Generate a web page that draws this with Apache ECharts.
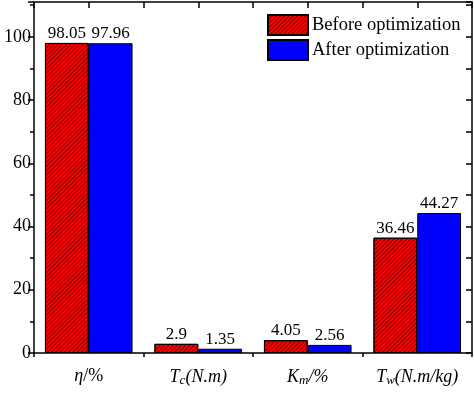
<!DOCTYPE html>
<html><head><meta charset="utf-8">
<script src="https://cdn.jsdelivr.net/npm/echarts@6/dist/echarts.min.js"></script>
<style>html,body{margin:0;padding:0;background:#fff}#c{width:474px;height:395px}</style>
</head><body><div id="c"></div>
<script>
const categories = ['{i|η}{n|/%}', '{i|T}{s|c}{i|(N.m)}', '{i|K}{s|m}{i|/%}', '{i|T}{s|w}{i|(N.m/kg)}'];
const seriesNames = ['Before optimization', 'After optimization'];
const beforeValues = [98.05, 2.9, 4.05, 36.46];
const afterValues = [97.96, 1.35, 2.56, 44.27];
const yTicks = [0, 20, 40, 60, 80, 100];

const FONT = '"Liberation Serif", "Times New Roman", serif';
const chart = echarts.init(document.getElementById('c'));
const lbl = {show: true, position: 'top', distance: 1, color: '#000', fontFamily: FONT, fontSize: 17};
chart.setOption({
  animation: false,
  grid: {left: 34, right: 2, top: 2, bottom: 42, show: false},
  legend: {
    orient: 'vertical', left: 267, top: 14, padding: 0, itemWidth: 40, itemHeight: 20, itemGap: 3,
    textStyle: {fontFamily: FONT, fontSize: 18.5, color: '#000', padding: [0,0,0,-1]},
    data: seriesNames.map(n => ({name: n, icon: 'rect'}))
  },
  xAxis: [
    {type: 'category', data: categories, position: 'bottom',
     axisLine: {onZero: false, lineStyle: {color: '#000', width: 1.5}},
     axisTick: {alignWithLabel: true, length: 7, lineStyle: {color: '#000', width: 1.5}},
     axisLabel: {interval: 0, margin: 14, color: '#000', fontFamily: FONT,
       rich: {
         i: {fontStyle: 'italic', fontSize: 18, fontFamily: FONT, color: '#000'},
         n: {fontSize: 18, fontFamily: FONT, color: '#000'},
         s: {fontStyle: 'italic', fontSize: 13, fontFamily: FONT, color: '#000', padding: [7, 0, 0, 0]}
       }}},
    {type: 'value', min: 0, max: 4, interval: 1, position: 'bottom',
     axisLine: {show: false, onZero: false}, splitLine: {show: false}, axisLabel: {show: false},
     axisTick: {show: true, length: 4, lineStyle: {color: '#000', width: 1.5}}},
    {type: 'value', min: 0, max: 8, interval: 1, position: 'top',
     axisLine: {show: true, onZero: false, lineStyle: {color: '#000', width: 1.5}}, splitLine: {show: false}, axisLabel: {show: false},
     axisTick: {show: true, inside: true, length: 6, lineStyle: {color: '#000', width: 1.5}}}
  ],
  yAxis: [
    {type: 'value', min: 0, max: 111, interval: 20, position: 'left',
     axisLine: {show: true, onZero: false, lineStyle: {color: '#000', width: 1.5}},
     axisTick: {show: true, length: 6, lineStyle: {color: '#000', width: 1.5}},
     minorTick: {show: true, splitNumber: 2, length: 4, lineStyle: {color: '#000', width: 1.5}},
     splitLine: {show: false},
     axisLabel: {showMaxLabel: false, margin: 3, color: '#000', fontFamily: FONT, fontSize: 18,
       formatter: v => yTicks.includes(v) ? String(v) : ''}},
    {type: 'value', min: 0, max: 111, interval: 20, position: 'right',
     axisLine: {show: true, onZero: false, lineStyle: {color: '#000', width: 1.5}},
     axisTick: {show: true, inside: true, length: 6, lineStyle: {color: '#000', width: 1.5}},
     minorTick: {show: true, splitNumber: 2, length: 6, lineStyle: {color: '#000', width: 1.5}},
     splitLine: {show: false}, axisLabel: {show: false}}
  ],
  series: [
    {name: seriesNames[0], type: 'bar', xAxisIndex: 0, yAxisIndex: 0, data: beforeValues,
     barGap: '0%', barCategoryGap: '20%',
     itemStyle: {color: '#ff0000', borderColor: '#000', borderWidth: 1,
       decal: {symbol: 'rect', symbolSize: 1, dashArrayX: [1, 0], dashArrayY: [1, 2], rotation: -Math.PI / 4, color: 'rgba(90,0,0,0.75)'}},
     label: lbl},
    {name: seriesNames[1], type: 'bar', xAxisIndex: 0, yAxisIndex: 0, data: afterValues,
     barGap: '0%', barCategoryGap: '20%',
     itemStyle: {color: '#0000ff', borderColor: '#000', borderWidth: 1},
     label: lbl}
  ]
});
</script></body></html>
